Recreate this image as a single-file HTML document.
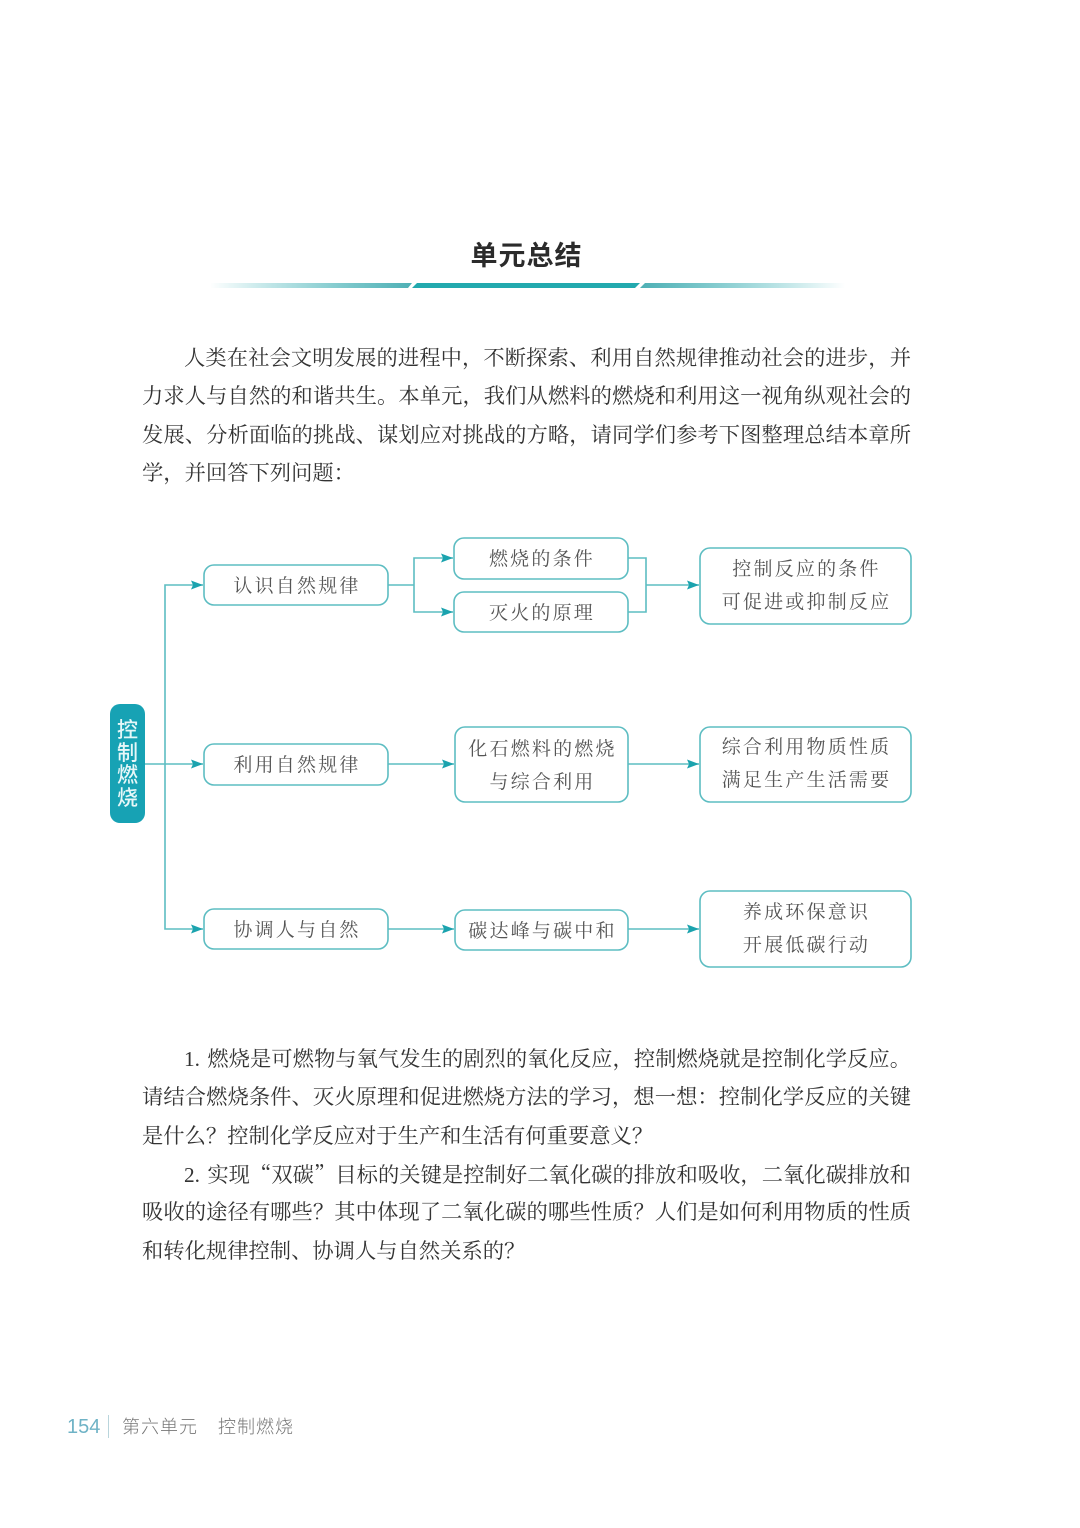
<!DOCTYPE html>
<html lang="zh">
<head>
<meta charset="utf-8">
<style>
html,body{margin:0;padding:0;background:#fff}
#p{position:relative;width:1080px;height:1528px;overflow:hidden;background:#fff;font-family:"Liberation Serif","Noto Serif CJK SC",serif;color:#333;filter:blur(0.35px)}
.l{position:absolute;left:142px;width:769px;height:38px;line-height:38px;font-size:21.3px;white-space:nowrap;text-align:justify;text-align-last:justify}
.n{text-align-last:left}
.i{left:184px;width:727px}
.q{font-family:"Noto Serif CJK SC",serif}
.t{position:absolute;font-size:19px;line-height:26px;height:26px;color:#555;text-align:center;white-space:nowrap;letter-spacing:2.2px;font-weight:400}
h1{position:absolute;left:0;top:237px;width:1053px;margin:0;text-align:center;font:700 27px/38px "Liberation Sans","Noto Sans CJK SC",sans-serif;color:#2b2b2b;letter-spacing:1px}
svg{position:absolute;left:0;top:0}
</style>
</head>
<body>
<div id="p">
<svg width="1080" height="1528" viewBox="0 0 1080 1528">
<defs>
<linearGradient id="a" x1="0" x2="1"><stop offset="0" stop-color="#1ba7ad" stop-opacity="0"/><stop offset="1" stop-color="#4fb0b5"/></linearGradient>
<linearGradient id="b" x1="0" x2="1"><stop offset="0" stop-color="#4fb0b5"/><stop offset="1" stop-color="#1ba7ad" stop-opacity="0"/></linearGradient>
<marker id="m" viewBox="0 0 12 9" refX="12" refY="4.5" markerWidth="12" markerHeight="9" markerUnits="userSpaceOnUse" orient="auto"><path d="M0 0L12 4.5L0 9L2 4.5Z" fill="#1ba3ae"/></marker>
</defs>
<polygon points="210,283 412,283 408,288 210,288" fill="url(#a)"/>
<polygon points="417,283 640,283 635,288 412,288" fill="#22a9ae"/>
<polygon points="645,283 845,283 845,288 640,288" fill="url(#b)"/>
<g fill="none" stroke="#5dbdc2" stroke-width="1.6">
<path d="M145 764H203" marker-end="url(#m)"/>
<path d="M165 764V585H203" marker-end="url(#m)"/>
<path d="M165 764V929H203" marker-end="url(#m)"/>
<path d="M388 585H414"/>
<path d="M414 585V558H453" marker-end="url(#m)"/>
<path d="M414 585V612H453" marker-end="url(#m)"/>
<path d="M628 558H646V612H628"/>
<path d="M646 585H699" marker-end="url(#m)"/>
<path d="M388 764H454" marker-end="url(#m)"/>
<path d="M628 764H699" marker-end="url(#m)"/>
<path d="M388 929H454" marker-end="url(#m)"/>
<path d="M628 929H699" marker-end="url(#m)"/>
<rect x="204" y="565" width="184" height="40" rx="10"/>
<rect x="204" y="744" width="184" height="41" rx="10"/>
<rect x="204" y="909" width="184" height="40" rx="10"/>
<rect x="454" y="538" width="174" height="41" rx="10"/>
<rect x="454" y="592" width="174" height="40" rx="10"/>
<rect x="455" y="727" width="173" height="75" rx="10"/>
<rect x="455" y="910" width="173" height="40" rx="10"/>
<rect x="700" y="548" width="211" height="76" rx="10"/>
<rect x="700" y="727" width="211" height="75" rx="10"/>
<rect x="700" y="891" width="211" height="76" rx="10"/>
</g>
<rect x="110" y="704" width="35" height="119" rx="10" fill="#17a2b4"/>
<rect x="108" y="1415" width="1" height="23" fill="#b9d5dc"/>
</svg>

<h1>单元总结</h1>

<div class="l i" style="top:339px">人类在社会文明发展的进程中，不断探索、利用自然规律推动社会的进步，并</div>
<div class="l" style="top:377px">力求人与自然的和谐共生。本单元，我们从燃料的燃烧和利用这一视角纵观社会的</div>
<div class="l" style="top:416px">发展、分析面临的挑战、谋划应对挑战的方略，请同学们参考下图整理总结本章所</div>
<div class="l n" style="top:454px">学，并回答下列问题：</div>

<div class="t" style="left:205px;top:574px;width:184px">认识自然规律</div>
<div class="t" style="left:205px;top:753px;width:184px">利用自然规律</div>
<div class="t" style="left:205px;top:918px;width:184px">协调人与自然</div>
<div class="t" style="left:455px;top:547px;width:174px">燃烧的条件</div>
<div class="t" style="left:455px;top:601px;width:174px">灭火的原理</div>
<div class="t" style="left:456px;top:737px;width:173px">化石燃料的燃烧</div>
<div class="t" style="left:456px;top:770px;width:173px">与综合利用</div>
<div class="t" style="left:456px;top:919px;width:173px">碳达峰与碳中和</div>
<div class="t" style="left:701px;top:557px;width:211px">控制反应的条件</div>
<div class="t" style="left:701px;top:590px;width:211px">可促进或抑制反应</div>
<div class="t" style="left:701px;top:735px;width:211px">综合利用物质性质</div>
<div class="t" style="left:701px;top:768px;width:211px">满足生产生活需要</div>
<div class="t" style="left:701px;top:900px;width:211px">养成环保意识</div>
<div class="t" style="left:701px;top:933px;width:211px">开展低碳行动</div>

<div style="position:absolute;left:110px;top:720px;width:35px;text-align:center;font:500 21px/22.5px 'Liberation Sans','Noto Sans CJK SC',sans-serif;color:#e6f7f8">控<br>制<br>燃<br>烧</div>

<div class="l i" style="top:1040px"><span style="margin-right:2px">1.</span> 燃烧是可燃物与氧气发生的剧烈的氧化反应，控制燃烧就是控制化学反应。</div>
<div class="l" style="top:1078px">请结合燃烧条件、灭火原理和促进燃烧方法的学习，想一想：控制化学反应的关键</div>
<div class="l n" style="top:1117px">是什么？控制化学反应对于生产和生活有何重要意义？</div>
<div class="l i" style="top:1155px"><span style="margin-right:2px">2.</span> 实现<span class="q">“</span>双碳<span class="q">”</span>目标的关键是控制好二氧化碳的排放和吸收，二氧化碳排放和</div>
<div class="l" style="top:1193px">吸收的途径有哪些？其中体现了二氧化碳的哪些性质？人们是如何利用物质的性质</div>
<div class="l n" style="top:1232px">和转化规律控制、协调人与自然关系的？</div>

<div style="position:absolute;left:67px;top:1414px;font:400 20px/26px 'Liberation Sans',sans-serif;color:#6fb3c6">154</div>
<div style="position:absolute;left:122px;top:1414px;font:300 18px/26px 'Liberation Sans','Noto Sans CJK SC',sans-serif;color:#777;letter-spacing:1px;white-space:pre">第六单元</div>
<div style="position:absolute;left:218px;top:1414px;font:300 18px/26px 'Liberation Sans','Noto Sans CJK SC',sans-serif;color:#777;letter-spacing:1px;white-space:pre">控制燃烧</div>
</div>
</body>
</html>
